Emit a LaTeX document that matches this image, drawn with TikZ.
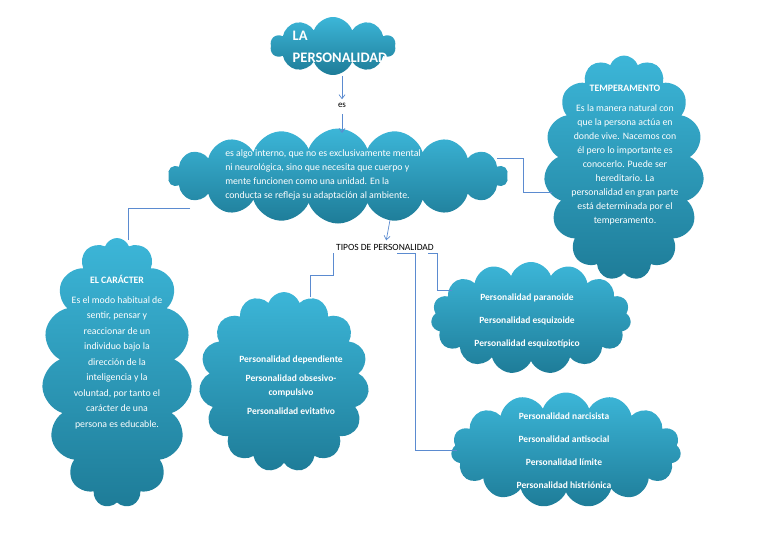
\documentclass[tikz,border=0pt]{standalone}
\usepackage{fontspec}
\setmainfont{Carlito}
\usetikzlibrary{shapes.symbols,arrows.meta}
\definecolor{ctop}{HTML}{3CB6D8}
\definecolor{cbot}{HTML}{1E7C98}
\definecolor{ln}{HTML}{5B8BD0}
\tikzset{
 cl/.style={cloud,cloud puffs=15,cloud puff arc=140,cloud ignores aspect,draw=none,top color=ctop,bottom color=cbot,inner sep=0pt},
 tx/.style={text=white,align=center,font=\fontsize{9.8}{14}\selectfont},
 ttl/.style={text=white,align=center,font=\bfseries\fontsize{9.5}{12}\selectfont},
 con/.style={ln,line width=0.7pt},
 arr/.style={con,-{Straight Barb[length=4pt,width=6pt]}}
}
\begin{document}
\begin{tikzpicture}[x=1pt,y=-1pt]
\useasboundingbox (0,0) rectangle (768,543);
\node[cl,minimum width=125,minimum height=58,cloud puffs=10] (t) at (333,46) {};
\node[text=white,align=left,font=\bfseries\fontsize{14.5}{22}\selectfont] (tt) at (340,47) {LA\\PERSONALIDAD};
\node[font=\fontsize{9}{10}\selectfont] (es) at (342,105) {es};
\node[cl,minimum width=340,minimum height=95,cloud puffs=18] (m) at (338,176) {};
\node[tx,align=left] (mt) at (323,175) {es algo interno, que no es exclusivamente mental\\ni neurológica, sino que necesita que cuerpo y\\mente funcionen como una unidad. En la\\conducta se refleja su adaptación al ambiente.};
\node[cl,minimum width=160,minimum height=225] (te) at (624,168) {};
\node[tx] (tet) at (625,155) {{\bfseries TEMPERAMENTO}\\[6pt]Es la manera natural con\\que la persona actúa en\\donde vive. Nacemos con\\él pero lo importante es\\conocerlo. Puede ser\\hereditario. La\\personalidad en gran parte\\está determinada por el\\temperamento.};
\node[cl,minimum width=150,minimum height=270] (ca) at (117,373) {};
\node[tx,font=\fontsize{9.8}{15.5}\selectfont] (cat) at (117,352) {{\bfseries EL CARÁCTER}\\[4pt]Es el modo habitual de\\sentir, pensar y\\reaccionar de un\\individuo bajo la\\dirección de la\\inteligencia y la\\voluntad, por tanto el\\carácter de una\\persona es educable.};
\node[font=\fontsize{9.5}{10}\selectfont] (tp) at (385,247) {TIPOS DE PERSONALIDAD};
\node[cl,minimum width=170,minimum height=180] (d) at (284,382) {};
\node[ttl,font=\bfseries\fontsize{9.5}{14}\selectfont] (dt) at (291,385) {Personalidad dependiente\\[5pt]Personalidad obsesivo-\\compulsivo\\[5pt]Personalidad evitativo};
\node[cl,minimum width=200,minimum height=112] (p) at (531,318) {};
\node[ttl] (pt) at (527,321) {Personalidad paranoide\\[11pt]Personalidad esquizoide\\[11pt]Personalidad esquizotípico};
\node[cl,minimum width=230,minimum height=115] (n) at (566,450) {};
\node[ttl] (nt) at (564,451) {Personalidad narcisista\\[11pt]Personalidad antisocial\\[11pt]Personalidad límite\\[11pt]Personalidad histriónica};
\coordinate (a1) at (342,76);
\draw[arr] (a1) -- (es);
\coordinate (a2) at (342,114);
\coordinate (a3) at (342,133);
\draw[arr] (a2) -- (a3);
\coordinate (b1) at (390,220);
\draw[arr] (b1) -- (tp);
\coordinate (c1) at (497,158);
\draw[con] (c1) -| (523,192) -- (552,192);
\coordinate (c2) at (190,208);
\draw[con] (c2) -- (128,208) -- (128,240);
\draw[con] (333,253) -- (333,275) -- (310,275) -- (310,297);
\draw[con] (397,253) -- (415,253) -- (415,450) -- (457,450);
\draw[con] (428,253) -- (437,253) -- (437,290) -- (452,290);
\end{tikzpicture}
\end{document}
